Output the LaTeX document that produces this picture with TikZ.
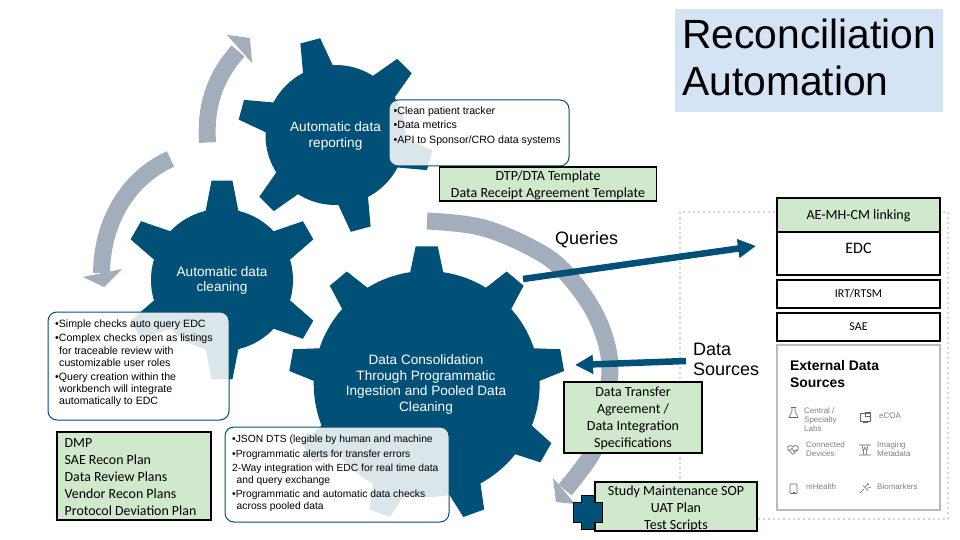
\documentclass[tikz,border=0pt]{standalone}
\usepackage{fontspec}
\setmainfont{Liberation Sans}
\newfontfamily\carl{Carlito}
\usetikzlibrary{arrows.meta}
\definecolor{gearblue}{HTML}{005078}
\definecolor{bandgrey}{HTML}{A2AEBB}
\definecolor{greenfill}{HTML}{D0E8CB}
\definecolor{titleblue}{HTML}{D5E4F5}
\definecolor{icongrey}{HTML}{666666}
\definecolor{labelgrey}{HTML}{808080}
\newcommand{\fs}[2]{\fontsize{#1}{#2}\selectfont}
% cx cy r R n first basehalf tiphalf
\newcommand{\geardraw}[8]{%
  \fill[gearblue] (#1,#2) circle[radius=#3];
  \foreach \k in {1,...,#5}{%
    \pgfmathsetmacro{\ang}{#6+360*\k/#5}
    \fill[gearblue]
      ({#1+(#3-1)*cos(\ang-#7)},{#2-(#3-1)*sin(\ang-#7)}) --
      ({#1+#4*cos(\ang-#8)},{#2-#4*sin(\ang-#8)}) --
      ({#1+#4*cos(\ang+#8)},{#2-#4*sin(\ang+#8)}) --
      ({#1+(#3-1)*cos(\ang+#7)},{#2-(#3-1)*sin(\ang+#7)}) -- cycle;
  }%
}
\tikzset{
  band/.style={draw=bandgrey,line width=17pt,line cap=butt},
  head/.style={fill=bandgrey},
  geartext/.style={text=white,align=center,font=\fs{13.6}{15.6}},
  callout/.style={draw=gearblue,line width=1pt,fill=white,fill opacity=.86,draw opacity=1,rounded corners=9pt,inner sep=0pt},
  callouttext/.style={align=left,anchor=north west,inner sep=0pt,font=\fs{10.6}{12.2}},
  greenbox/.style={draw=black,line width=1.2pt,fill=greenfill,inner sep=0pt},
  greentext/.style={inner sep=0pt,align=center,font=\carl\fs{14}{16.8}},
  sysbox/.style={draw=black,line width=1.2pt,fill=white,inner sep=0pt,font=\carl\fs{12}{14}},
  flow/.style={draw=gearblue,-{Triangle[length=18pt,width=18pt]}},
  bigword/.style={align=left,font=\fs{18}{20},inner sep=0pt},
  iconline/.style={draw=icongrey,line width=.6pt},
  extlabel/.style={text=labelgrey,align=left,anchor=west,inner sep=0pt,font=\fs{8}{9}},
}
\begin{document}
\begin{tikzpicture}[x=1pt,y=-1pt]
\useasboundingbox (0,0) rectangle (960,540);
\fill[white] (0,0) rectangle (960,540);
% dotted frame
\draw[draw=black!17,line width=1.7pt,dash pattern=on 1.8pt off 3.2pt] (680,212) rectangle (948,519);
% gears
\geardraw{335.5}{135}{70}{98}{6}{105}{13}{6}
\geardraw{222}{280}{71}{100}{6}{90}{13.7}{6}
\geardraw{426.7}{384}{113}{138}{9}{90}{8.6}{4.6}
% grey bands
\draw[band] (207.5,142.5) .. controls (205,104) and (216,76) .. (238,51);
\fill[head] (227,35) -- (250,38) -- (252,63) -- cycle;
\draw[band] (170.5,159) .. controls (128,178) and (102,222) .. (101.5,273);
\fill[head] (83,277) -- (104,287) -- (122,269) -- cycle;
\draw[band] plot[smooth,tension=.6] coordinates {(427,221) (480,227) (530,247) (563,270) (593,310) (608,350) (609,385) (601,430) (590,457) (565,490)};
\fill[head] (553,478) -- (556,502) -- (575,504) -- cycle;
% flow arrows
\coordinate (qfrom) at (523,279);
\coordinate (qto) at (756,246);
\draw[flow,line width=6.5pt] (qfrom) -- (qto);
\coordinate (dfrom) at (686,361);
\coordinate (dto) at (575,365);
\draw[flow,line width=6.5pt] (dfrom) -- (dto);
% gear labels
\node[geartext] (g1) at (335.5,136) {Automatic data\\reporting};
\node[geartext] (g2) at (222,280.5) {Automatic data\\cleaning};
\node[geartext] (g3) at (426,384.5) {Data Consolidation\\Through Programmatic\\Ingestion and Pooled Data\\Cleaning};
\node[bigword,anchor=west] (qlab) at (555,239.5) {Queries};
\node[bigword,anchor=north west] (dlab) at (693,343) {Data\\Sources};
% callouts
\node[callout,minimum width=180pt,minimum height=66pt] (c1) at (479,133) {};
\node[callouttext] (c1t) at (393.5,107) {•Clean patient tracker\\[1.8pt]•Data metrics\\[2pt]•API to Sponsor/CRO data systems};
\node[callout,minimum width=181pt,minimum height=108pt] (c2) at (138.5,366) {};
\node[callouttext] (c2t) at (55,320) {•Simple checks auto query EDC\\[1.8pt]•Complex checks open as listings\\\hspace{4pt}for traceable review with\\\hspace{4pt}customizable user roles\\[1.8pt]•Query creation within the\\\hspace{4pt}workbench will integrate\\\hspace{4pt}automatically to EDC};
\node[callout,minimum width=224pt,minimum height=95pt] (c3) at (337,474.5) {};
\node[callouttext,font=\fs{10.3}{12.2}] (c3t) at (232,435) {•JSON DTS (legible by human and machine\\[2.4pt]•Programmatic alerts for transfer errors\\[1.8pt]2-Way integration with EDC for real time data\\\hspace{4.5pt}and query exchange\\[1.4pt]•Programmatic and automatic data checks\\\hspace{4.5pt}across pooled data};
% green boxes
\node[greenbox,minimum width=154pt,minimum height=88pt] (dmp) at (134,476) {};
\node[greentext,align=left,anchor=west,font=\carl\fs{13.9}{16.8}] (dmpt) at (64.5,477) {DMP\\SAE Recon Plan\\Data Review Plans\\Vendor Recon Plans\\Protocol Deviation Plan};
\node[greenbox,minimum width=216.5pt,minimum height=34pt] (dtp) at (548,184) {};
\node[greentext] (dtpt) at (548,185) {DTP/DTA Template\\Data Receipt Agreement Template};
\node[greenbox,minimum width=138pt,minimum height=71pt] (dta) at (633,417.5) {};
\node[greentext] (dtat) at (633,418.5) {Data Transfer\\Agreement /\\Data Integration\\Specifications};
\node[greenbox,minimum width=162pt,minimum height=49pt] (sop) at (676,506.5) {};
\node[greentext] (sopt) at (676,508.5) {Study Maintenance SOP\\UAT Plan\\Test Scripts};
% plus marker
\draw[fill=gearblue,draw=black,line width=.9pt] (581,495) -- (594,495) -- (594,502) -- (602,502) -- (602,522) -- (594,522) -- (594,529) -- (581,529) -- (581,522) -- (573.5,522) -- (573.5,502) -- (581,502) -- cycle;
% right column
\node[greenbox,minimum width=163pt,minimum height=34pt] (ae) at (858.5,215) {};
\node[greentext] (aet) at (858.5,216) {AE-MH-CM linking};
\node[sysbox,minimum width=163pt,minimum height=43pt] (edc) at (858.5,253.5) {};
\node[inner sep=0pt,font=\carl\fs{16}{18}] (edct) at (858.5,248.5) {EDC};
\node[sysbox,minimum width=163pt,minimum height=28pt] (irt) at (858.5,294) {IRT/RTSM};
\node[sysbox,minimum width=163pt,minimum height=28pt] (sae) at (858.5,327) {SAE};
\node[draw=black!27,line width=1.2pt,fill=white,minimum width=163pt,minimum height=165pt,inner sep=0pt] (ext) at (858.5,427.5) {};
\node[align=left,anchor=north west,inner sep=0pt,font=\bfseries\fs{13.9}{17.3}] (extt) at (790,360) {External Data\\Sources};
% external labels
\node[extlabel] (l1) at (804,420) {Central /\\Specialty\\Labs};
\node[extlabel] (l2) at (879,416) {eCOA};
\node[extlabel] (l3) at (806,449.5) {Connected\\Devices};
\node[extlabel] (l4) at (877,449.5) {Imaging\\Metadata};
\node[extlabel] (l5) at (806,487) {mHealth};
\node[extlabel] (l6) at (877,487) {Biomarkers};
% icons
\draw[iconline,line join=round] (791,407.5) -- (796,407.5) (792,407.5) -- (792,411) -- (789,417.5) -- (798,417.5) -- (795,411) -- (795,407.5);
\draw[iconline] (860,413) rectangle (870,421) (865,412) rectangle (870,416.5) (863,421) -- (863,422.5) -- (867,422.5) -- (867,421);
\draw[iconline,line join=round] (793,454.5) -- (788,449.5) .. controls (786,446) and (791,444) .. (793,447) .. controls (795,444) and (800,446) .. (798,449.5) -- cycle;
\draw[iconline] (788,450) -- (791,450) -- (792,448) -- (794,452) -- (795,450) -- (798,450);
\draw[iconline] (859,445) -- (871,445) (859,455) -- (871,455) (862,445) -- (864,455) (868,445) -- (866,455) (863,452) -- (865,447) -- (867,451);
\draw[iconline,rounded corners=.8pt] (790,484) rectangle (797,493.5);
\draw[iconline] (792.5,492) -- (794.5,492);
\draw[iconline] (860,493) -- (864,489) (863,485.5) -- (868,490.5) (865,487) -- (868,484) (867,483) -- (869,485) (868,488) -- (871,487);
% title
\node[fill=titleblue,minimum width=268pt,minimum height=103pt,inner sep=0pt] (ttl) at (809,60.5) {};
\node[align=left,anchor=north west,inner sep=0pt,font=\fs{40.8}{47.5}] (ttlt) at (682,18.5) {Reconciliation\\Automation};
\end{tikzpicture}
\end{document}
